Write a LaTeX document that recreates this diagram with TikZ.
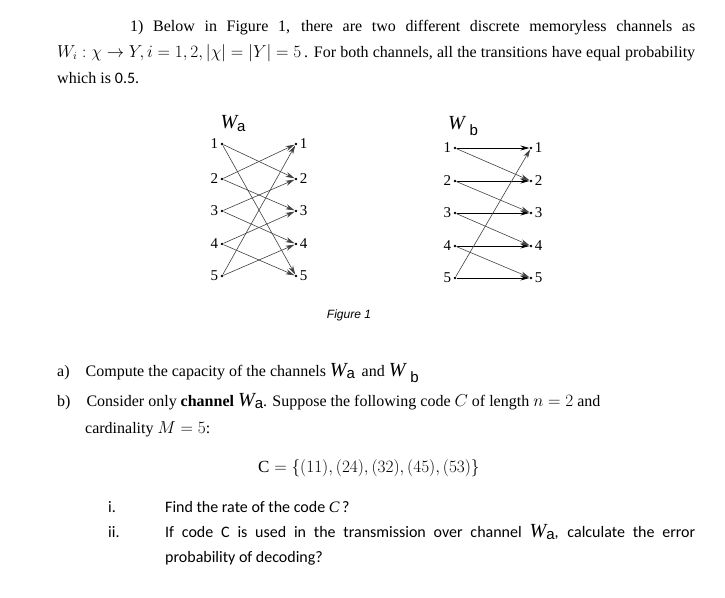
\documentclass[tikz,border=0pt]{standalone}
\usepackage{fontspec}
\usetikzlibrary{arrows.meta}
\setmainfont{Liberation Serif}
\newfontfamily\calfnt{Carlito}
\newfontfamily\arsfnt{Liberation Sans}
\begin{document}
\begin{tikzpicture}[x=1pt,y=-1pt,
  dot/.style={circle,fill,inner sep=1pt},
  lab/.style={font=\fontsize{15}{15}\selectfont,inner sep=2pt},
  txt/.style={anchor=base west,inner sep=0,font=\fontsize{16}{18}\selectfont},
  ctxt/.style={txt,font=\calfnt\fontsize{16}{18}\selectfont},
  ar/.style={-{Stealth[length=9pt,width=5pt]},semithick,black!75},
  arh/.style={-{Stealth[length=9pt,width=5pt]},thick}]
\useasboundingbox (0,0) rectangle (725,597);
\node[txt] (l1) at (130,31) {\makebox[565pt][s]{1) Below in Figure 1, there are two different discrete memoryless channels as}};
\node[txt] (l2) at (57,57) {\makebox[638pt][s]{\mbox{$W_i:\chi\to Y, i=1,2, |\chi|=|Y|=5$}\,. For both channels, all the transitions have equal probability}};
\node[txt] (l3) at (57,83) {which is {\calfnt 0.5.}};
% Wa
\node[font=\fontsize{20}{20}\selectfont\itshape] (wa) at (233,124) {W\raisebox{-3pt}{\arsfnt\upshape\fontsize{15}{15}\selectfont a}};
\foreach \i/\y in {1/144,2/179,3/211,4/244,5/276}{
  \node[dot] (al\i) at (222,\y) {}; \node[lab,anchor=east] (all\i) at (al\i.west) {\i};
  \node[dot] (ar\i) at (296,\y) {}; \node[lab,anchor=west] (arl\i) at (ar\i.east) {\i};}
\foreach \a/\b in {1/2,1/5,2/1,2/3,3/2,3/4,4/3,4/5,5/1,5/4}{\draw[ar] (al\a) -- (ar\b);}
% Wb
\node[font=\fontsize{20}{20}\selectfont\itshape] (wb) at (463,126) {W\ \raisebox{-6pt}{\arsfnt\upshape\fontsize{15}{15}\selectfont b}};
\foreach \i/\y in {1/148,2/181,3/213,4/246,5/278}{
  \node[dot] (bl\i) at (455,\y) {}; \node[lab,anchor=east] (bll\i) at (bl\i.west) {\i};
  \node[dot] (br\i) at (531,\y) {}; \node[lab,anchor=west] (brl\i) at (br\i.east) {\i};}
\foreach \a in {1,...,5}{\draw[arh] (bl\a) -- (br\a);}
\foreach \a/\b in {1/2,2/3,3/4,4/5,5/1}{\draw[ar] (bl\a) -- (br\b);}
\node[font=\arsfnt\itshape\fontsize{12}{12}\selectfont] (fig) at (349,315) {Figure 1};
\node[txt] (qa) at (57,376) {a)\quad Compute the capacity of the channels {\itshape\fontsize{20}{20}\selectfont W\raisebox{-2pt}{\arsfnt\upshape\fontsize{15}{15}\selectfont a}}\, and {\itshape\fontsize{20}{20}\selectfont W\ \raisebox{-6pt}{\arsfnt\upshape\fontsize{15}{15}\selectfont b}}};
\node[txt] (qb) at (57,406) {b)\quad Consider only \textbf{channel} {\itshape\fontsize{20}{20}\selectfont W\raisebox{-2pt}{\arsfnt\upshape\fontsize{15}{15}\selectfont a}}. Suppose the following code $C$ of length $n=2$ and};
\node[txt] (qb2) at (85,433) {cardinality $M=5$:};
\node[txt,font=\fontsize{17}{17}\selectfont] (code) at (258,472) {$\mathrm{C}=\bigl\{(11),(24),(32),(45),(53)\bigr\}$};
\node[ctxt] (i1) at (108,512) {i.};
\node[ctxt] (t1) at (165,512) {Find the rate of the code {\rmfamily\itshape C}\,?};
\node[ctxt] (i2) at (108,537) {ii.};
\node[ctxt] (t2) at (165,537) {\makebox[530pt][s]{If code C is used in the transmission over channel {\rmfamily\itshape\fontsize{20}{20}\selectfont W\raisebox{-2pt}{\arsfnt\upshape\fontsize{15}{15}\selectfont a}}, calculate the error}};
\node[ctxt] (t3) at (165,562) {probability of decoding?};
\end{tikzpicture}
\end{document}
